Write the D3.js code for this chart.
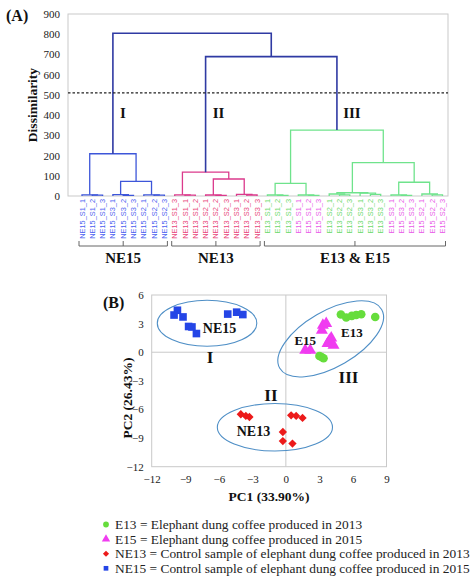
<!DOCTYPE html>
<html>
<head>
<meta charset="utf-8">
<style>
  body { margin: 0; background: #fff; overflow: hidden; }
  svg { display: block; }
  svg text { font-family: "Liberation Serif", "Tinos", "Times New Roman", "DejaVu Serif", serif; }
  .tick text { font-size: 11px; fill: #222; }
  .bold { font-weight: bold; fill: #111; }
  .leaf { font-family: "Liberation Sans", Arial, sans-serif !important; }
</style>
</head>
<body>
<svg width="474" height="578"></svg>
<script src="https://d3js.org/d3.v7.min.js"></script>
<script>
// ---- panel A: dendrogram data ----
const leafNames = [
  'NE15_S1_1','NE15_S1_2','NE15_S1_3','NE15_S3_1','NE15_S3_2','NE15_S3_3','NE15_S2_1','NE15_S2_2','NE15_S2_3',
  'NE13_S1_3','NE13_S1_1','NE13_S1_2','NE13_S2_1','NE13_S2_2','NE13_S2_3','NE13_S3_1','NE13_S3_2','NE13_S3_3',
  'E13_S1_1','E13_S1_2','E13_S1_3','E15_S1_1','E15_S1_2','E15_S1_3','E13_S2_1','E13_S2_2','E13_S2_3',
  'E13_S3_1','E13_S3_2','E13_S3_3','E15_S3_1','E15_S3_2','E15_S3_3','E15_S2_1','E15_S2_2','E15_S2_3'
];
// linkage: [child a, child b, dissimilarity]; ids >= 36 are earlier merges
const merges = [
  [1,2,4],[0,36,6],[4,5,3],[3,38,7],[7,8,4],[6,40,6],[39,41,72],[37,42,209],
  [10,11,4],[9,44,6],[13,14,3],[12,46,5],[16,17,5],[15,48,8],[47,49,84],[45,50,118],
  [19,20,3],[18,52,5],[22,23,3],[21,54,5],[53,55,62],[25,26,6],[24,57,10],[28,29,8],
  [27,59,14],[58,60,16],[31,32,3],[30,62,5],[34,35,6],[33,64,10],[63,65,68],[61,66,165],
  [56,67,326],[51,68,689],[43,69,805]
];
const cutoff = 510;
const dissimTicks = [0,100,200,300,400,500,600,700,800,900];
const clusterNames = ['I','II','III'];
const groupBrackets = [['NE15',0,8],['NE13',9,17],['E13 & E15',18,35]];

// ---- panel B: PCA scores ----
const e13 = [[4.92,3.96],[5.4,3.64],[5.9,3.81],[6.29,3.91],[6.74,3.99],[7.99,3.7],[3.0,-0.39],[3.19,-0.5],[3.37,-0.63]];
const e15 = [[3.31,2.83],[3.61,3.01],[3.22,2.31],[3.9,1.26],[3.72,0.91],[4.26,0.73],[4.06,1.5],[1.73,0.21],[2.18,0.21]];
const ne13 = [[-4.03,-6.5],[-3.58,-6.68],[-3.26,-6.79],[0.47,-6.61],[0.92,-6.68],[1.49,-6.89],[-0.27,-8.36],[-0.27,-9.31],[0.59,-9.58]];
const ne15 = [[-9.7,4.4],[-10.0,3.9],[-9.2,3.7],[-8.7,2.7],[-8.4,2.65],[-8.0,1.96],[-5.2,4.0],[-4.4,4.2],[-3.85,3.95]];
const pcTicksX = [-12,-9,-6,-3,0,3,6,9];
const pcTicksY = [-12,-9,-6,-3,0,3,6];
// group ellipses: centre, radii (PC units), rotation
const groupEllipses = [[-7.05,3.04,4.45,2.41,0],[-0.98,-7.87,5.15,2.49,0],[4.01,1.40,5.26,2.92,-30]];
const pcaLabels = [['NE15',-5.93,2.0,14],['I',-6.78,-1.15,17],['E15',1.73,0.73,13],['E13',5.91,1.57,13],
                   ['III',5.6,-3.25,17],['II',-1.34,-5.14,17],['NE13',-2.9,-8.81,14]];
const legendLabels = [
  'E13 = Elephant dung coffee produced in 2013',
  'E15 = Elephant dung coffee produced in 2015',
  'NE13 = Control sample of elephant dung coffee produced in 2013',
  'NE15 = Control sample of elephant dung coffee produced in 2015'
];

const svg = d3.select('svg');
const grid = '#c9c9c9';

// ================= Panel A =================
const A = {left: 68, right: 448, top: 14, bottom: 196};
const xLeaf = d3.scalePoint().domain(d3.range(leafNames.length)).range([82, 442.5]);
const yD = d3.scaleLinear().domain([0, 900]).range([A.bottom, A.top]);

svg.append('rect')
  .attr('x', A.left).attr('y', A.top)
  .attr('width', A.right - A.left).attr('height', A.bottom - A.top)
  .attr('fill', 'none').attr('stroke', grid);

const axA = svg.append('g')
  .attr('transform', `translate(${A.left},0)`)
  .call(d3.axisLeft(yD).tickValues(dissimTicks).tickSize(0).tickPadding(8));
axA.select('.domain').remove();

svg.append('text').attr('class', 'bold')
  .attr('transform', `translate(37,${(A.top + A.bottom) / 2}) rotate(-90)`)
  .attr('text-anchor', 'middle').attr('font-size', 13.5).text('Dissimilarity');

svg.append('text').attr('class', 'bold')
  .attr('x', 6).attr('y', 21).attr('font-size', 16).text('(A)');

// node positions
const leafCluster = n => n.startsWith('NE15') ? 'I' : n.startsWith('NE13') ? 'II' : 'III';
const nodeX = leafNames.map((_, i) => xLeaf(i));
const nodeH = leafNames.map(() => 0);
const nodeC = leafNames.map(leafCluster);
merges.forEach(([a, b, h]) => {
  nodeX.push((nodeX[a] + nodeX[b]) / 2);
  nodeH.push(h);
  nodeC.push(nodeC[a]);
});
const clusterColor = {I: '#3d56d9', II: '#db3a8c', III: '#6fe38c'};
const topColor = '#2f3aa3';

svg.append('g').selectAll('path')
  .data(merges)
  .join('path')
  .attr('fill', 'none')
  .attr('stroke', ([a, b, h]) => h > cutoff ? topColor : clusterColor[nodeC[a]])
  .attr('stroke-width', ([a, b, h]) => h > cutoff ? 1.6 : 1.3)
  .attr('d', ([a, b, h]) =>
    `M${nodeX[a]},${yD(nodeH[a])}V${yD(h)}H${nodeX[b]}V${yD(nodeH[b])}`);

// cutoff line
svg.append('line')
  .attr('x1', A.left).attr('x2', A.right)
  .attr('y1', yD(cutoff)).attr('y2', yD(cutoff))
  .attr('stroke', '#222').attr('stroke-width', 1.2).attr('stroke-dasharray', '2.5,2');

// cluster numerals
const clusterRoots = [43, 51, 68];
svg.append('g').selectAll('text')
  .data(clusterNames)
  .join('text').attr('class', 'bold')
  .attr('x', (d, i) => nodeX[clusterRoots[i]] + [10, 13, 15][i])
  .attr('y', 118).attr('font-size', 15).attr('text-anchor', 'middle')
  .text(d => d);

// leaf labels
const leafColor = {NE15: '#4a5ef0', NE13: '#e8457a', E13: '#6cd96c', E15: '#e85ae8'};
svg.append('g').selectAll('text')
  .data(leafNames)
  .join('text').attr('class', 'leaf')
  .attr('transform', (d, i) => `translate(${xLeaf(i)},199) rotate(-90)`)
  .attr('text-anchor', 'end').attr('dy', '0.35em')
  .attr('font-size', 7.4)
  .attr('fill', d => leafColor[d.split('_')[0]])
  .text(d => d);

// group brackets
const br = svg.append('g').attr('stroke', '#666').attr('fill', 'none').attr('stroke-width', 1);
groupBrackets.forEach(([name, i0, i1]) => {
  const x0 = xLeaf(i0) - 3, x1 = xLeaf(i1) + 3, xm = (x0 + x1) / 2, yb = 246;
  br.append('path').attr('d', `M${x0},${yb - 5}V${yb}H${x1}V${yb - 5}M${xm},${yb}V${yb - 5}`);
  svg.append('text').attr('class', 'bold')
    .attr('x', xm).attr('y', 263).attr('text-anchor', 'middle')
    .attr('font-size', 15).text(name);
});

// ================= Panel B =================
const B = {left: 151.7, right: 386.5, top: 295, bottom: 466.7};
const xP = d3.scaleLinear().domain([-12, 9]).range([B.left, B.right]);
const yP = d3.scaleLinear().domain([-12, 6]).range([B.bottom, B.top]);

svg.append('line').attr('x1', xP(0)).attr('x2', xP(0)).attr('y1', B.top).attr('y2', B.bottom).attr('stroke', grid);
svg.append('line').attr('x1', B.left).attr('x2', B.right).attr('y1', yP(0)).attr('y2', yP(0)).attr('stroke', grid);
svg.append('rect')
  .attr('x', B.left).attr('y', B.top)
  .attr('width', B.right - B.left).attr('height', B.bottom - B.top)
  .attr('fill', 'none').attr('stroke', grid);

const axBy = svg.append('g').attr('transform', `translate(${B.left},0)`)
  .call(d3.axisLeft(yP).tickValues(pcTicksY).tickSize(0).tickPadding(8));
axBy.select('.domain').remove();
const axBx = svg.append('g').attr('transform', `translate(0,${B.bottom})`)
  .call(d3.axisBottom(xP).tickValues(pcTicksX).tickSize(0).tickPadding(9));
axBx.select('.domain').remove();

svg.append('text').attr('class', 'bold')
  .attr('x', (B.left + B.right) / 2).attr('y', 501).attr('text-anchor', 'middle')
  .attr('font-size', 13.5).text('PC1 (33.90%)');
svg.append('text').attr('class', 'bold')
  .attr('transform', `translate(132,398) rotate(-90)`)
  .attr('text-anchor', 'middle').attr('font-size', 13.5).text('PC2 (26.43%)');
svg.append('text').attr('class', 'bold')
  .attr('x', 103).attr('y', 308).attr('font-size', 16).text('(B)');

// ellipses
svg.append('g').selectAll('ellipse')
  .data(groupEllipses)
  .join('ellipse')
  .attr('cx', d => xP(d[0])).attr('cy', d => yP(d[1]))
  .attr('rx', d => xP(d[0] + d[2]) - xP(d[0]))
  .attr('ry', d => yP(d[1]) - yP(d[1] + d[3]))
  .attr('transform', d => `rotate(${d[4]},${xP(d[0])},${yP(d[1])})`)
  .attr('fill', 'none').attr('stroke', '#4f8fc6').attr('stroke-width', 1.1);

const series = [
  {pts: e13, sym: d3.symbolCircle, size: 58, color: '#66dd3c'},
  {pts: e15, sym: d3.symbolTriangle, size: 62, color: '#f03cf0'},
  {pts: ne13, sym: d3.symbolDiamond2, size: 44, color: '#ec1a1a'},
  {pts: ne15, sym: d3.symbolSquare, size: 58, color: '#2445e6'}
];
series.forEach(s => {
  svg.append('g').selectAll('path')
    .data(s.pts)
    .join('path')
    .attr('transform', d => `translate(${xP(d[0])},${yP(d[1])})`)
    .attr('d', d3.symbol(s.sym, s.size))
    .attr('fill', s.color);
});

svg.append('g').selectAll('text')
  .data(pcaLabels)
  .join('text').attr('class', 'bold')
  .attr('x', d => xP(d[1])).attr('y', d => yP(d[2]))
  .attr('text-anchor', 'middle').attr('font-size', d => d[3])
  .text(d => d[0]);

// legend
const lg = svg.append('g').attr('transform', 'translate(106,524.5)');
legendLabels.forEach((t, i) => {
  const row = lg.append('g').attr('transform', `translate(0,${i * 14.6})`);
  row.append('path').attr('d', d3.symbol(series[i].sym, [26, 30, 24, 22][i])).attr('fill', series[i].color);
  row.append('text').attr('x', 9).attr('y', 4.6).attr('font-size', 13.4).attr('fill', '#222').text(t);
});
</script>
</body>
</html>
